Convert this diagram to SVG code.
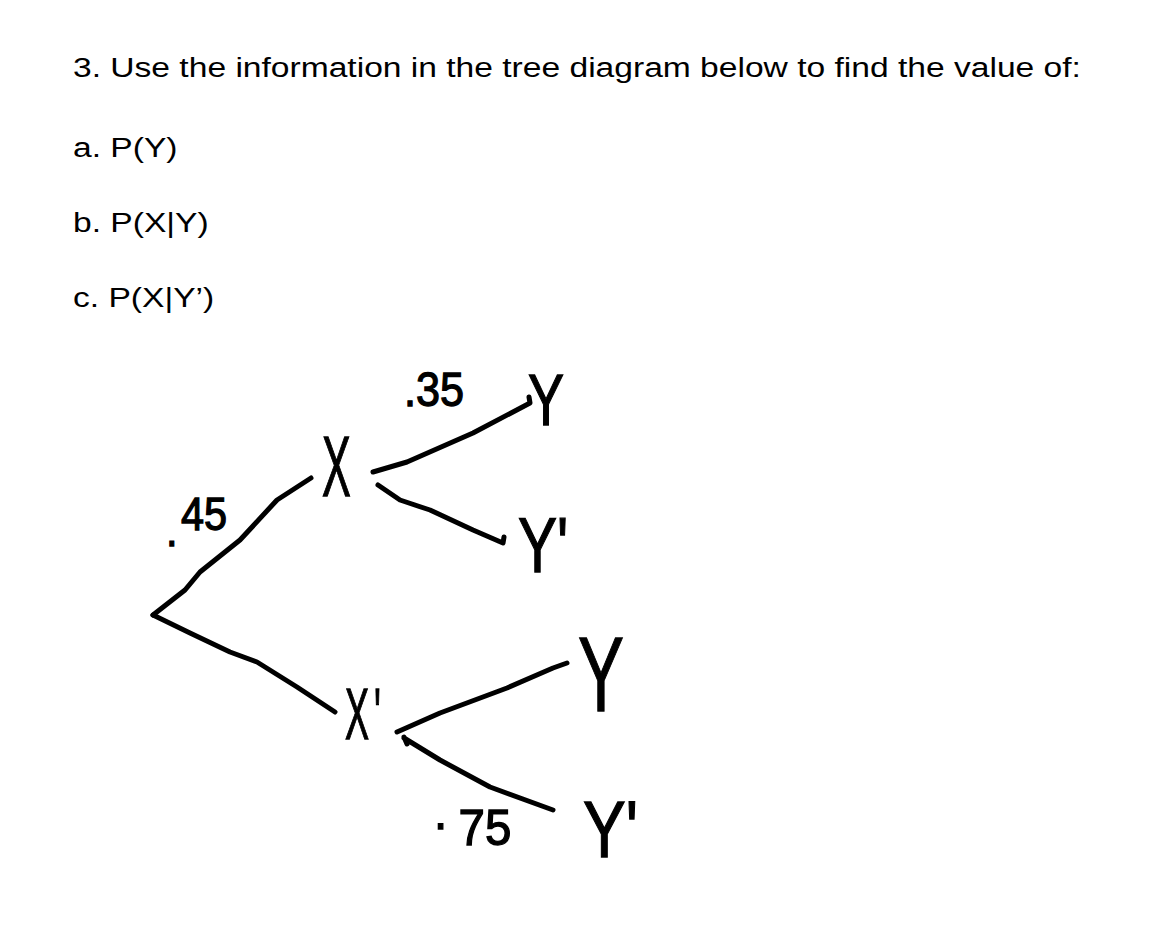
<svg xmlns="http://www.w3.org/2000/svg" width="1156" height="934" viewBox="0 0 1156 934">
<style>
.q{font-family:"Liberation Sans",Arial,sans-serif;font-size:28px;fill:#000}
.h{font-family:"Liberation Sans",Arial,sans-serif;fill:#000;stroke:#000;stroke-width:1.3}
.c{fill:none;stroke:#000;stroke-width:5;stroke-linecap:round;stroke-linejoin:round}
</style>
<rect width="1156" height="934" fill="#fff"/>
<g id="question" transform="translate(73,0) scale(1.2,1)">
<text class="q" x="0" y="77">3. Use the information in the tree diagram below to find the value of:</text>
<text class="q" x="0" y="157">a. P(Y)</text>
<text class="q" x="0" y="232">b. P(X|Y)</text>
<text class="q" x="0" y="307">c. P(X|Y’)</text>
</g>
<g id="connectors">
<path class="c" d="M311,478 L277,500 L240,540 L200,572 L185,590 L153,615"/>
<path class="c" d="M153,615 L190,633 L230,652 L257,662 L297,687 L335,712"/>
<path class="c" d="M373,472 L407,462 L473,433 L530,403 L529,397"/>
<path class="c" d="M378,485 L400,500 L430,510 L473,530 L503,543 L504,537"/>
<path class="c" d="M397,732 L440,713 L507,688 L553,668 L567,663"/>
<path class="c" d="M404,737 L407,744 M404,738 L440,760 L490,787 L553,810"/>
</g>
<g id="node-root"/>
<g id="node-X"><text class="h" x="0" y="0" font-size="86" transform="translate(322,496) scale(0.5,1)">X</text></g>
<g id="label-45"><text class="h" x="0" y="0" font-size="46" transform="translate(166,530) scale(0.9,1)"><tspan y="16">.</tspan><tspan y="0" dx="4">45</tspan></text></g>
<g id="node-Xp"><text class="h" x="0" y="0" font-size="72" transform="translate(345,739) scale(0.5,1)">X<tspan dx="10">'</tspan></text></g>
<g id="label-35"><text class="h" x="0" y="0" font-size="48" transform="translate(404,406) scale(0.9,1)">.35</text></g>
<g id="node-Y1"><text class="h" x="0" y="0" font-size="72" transform="translate(528,425) scale(0.75,1)">Y</text></g>
<g id="node-Yp1"><text class="h" x="0" y="0" font-size="78" transform="translate(518,572) scale(0.75,1)">Y'</text></g>
<g id="node-Y2"><text class="h" x="0" y="0" font-size="106" transform="translate(578,711) scale(0.65,1)">Y</text></g>
<g id="label-75"><text class="h" x="0" y="0" font-size="50" transform="translate(434,845) scale(0.95,1)"><tspan y="-16">.</tspan><tspan y="0" dx="12">75</tspan></text></g>
<g id="node-Yp2"><text class="h" x="0" y="0" font-size="80" transform="translate(583,857) scale(0.8,1)">Y'</text></g>
</svg>
